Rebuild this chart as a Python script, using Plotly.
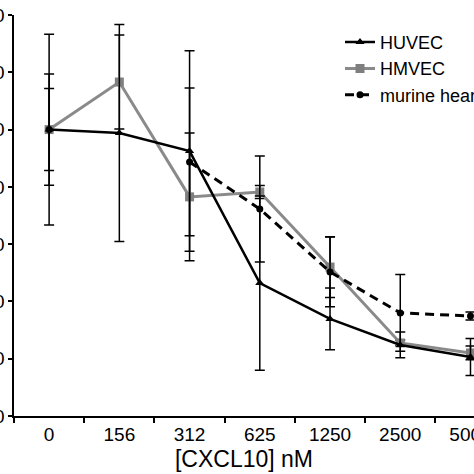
import plotly.graph_objects as go

# [CXCL10] nM doses (categorical x)
doses = ["0", "156", "312", "625", "1250", "2500", "5000"]

# % of control
huvec = [100, 98.8, 92.5, 46.4, 33.9, 24.8, 20.6]
huvec_err = [33.3, 37.9, 35.0, 30.4, 10.8, 4.5, 6.5]

hmvec = [100, 116.6, 76.5, 78.2, 52.0, 25.5, 22.0]
hmvec_err = [19.4, 16.4, 22.3, 2.3, 10.6, 1.0, 2.4]

murine = [100, None, 88.7, 72.3, 50.3, 36.0, 34.9]
murine_err = [14.3, None, 25.8, 18.5, 12.2, 13.4, 1.4]

y_ticks = [0, 20, 40, 60, 80, 100, 120, 140]

FONT = "Liberation Sans, Arial, sans-serif"


def err(vals):
    return dict(type="data", array=vals, visible=True, color="black",
                thickness=1.5, width=5)


fig = go.Figure()

fig.add_trace(go.Scatter(
    x=doses, y=hmvec, name="HMVEC", mode="lines+markers",
    line=dict(color="#8a8a8a", width=3),
    marker=dict(symbol="square", size=9, color="#7f7f7f"),
    error_y=err(hmvec_err), legendrank=2,
))
fig.add_trace(go.Scatter(
    x=doses, y=murine, name="murine heart EC", mode="lines+markers",
    line=dict(color="black", width=3, dash="9px,6px"),
    marker=dict(symbol="circle", size=7, color="black"),
    error_y=err(murine_err), legendrank=3, connectgaps=False,
))
fig.add_trace(go.Scatter(
    x=doses, y=huvec, name="HUVEC", mode="lines+markers",
    line=dict(color="black", width=2.5),
    marker=dict(symbol="triangle-up", size=8, color="black"),
    error_y=err(huvec_err), legendrank=1,
))

fig.update_layout(
    width=474, height=474,
    template="none",
    paper_bgcolor="white", plot_bgcolor="white",
    font=dict(family=FONT, size=19, color="black"),
    margin=dict(l=14, r=0, t=15, b=58, autoexpand=False),
    showlegend=True,
    legend=dict(x=(340 - 14) / 460, y=0.978, xanchor="left", yanchor="top",
                bgcolor="rgba(0,0,0,0)", font=dict(size=18),
                tracegroupgap=0),
)

fig.update_xaxes(
    type="category", range=[-0.5, 6.05],
    showline=True, linecolor="black", linewidth=1.5,
    ticks="outside", ticklen=5, tickcolor="black", tickwidth=1.5,
    tickson="boundaries", showgrid=False, zeroline=False,
    title=dict(text="[CXCL10] nM", standoff=7),
    automargin=False,
)
fig.update_yaxes(
    range=[0, 140], tickvals=y_ticks,
    showline=True, linecolor="black", linewidth=1.5,
    ticks="outside", ticklen=4, tickcolor="black", tickwidth=1.5,
    showgrid=False, zeroline=False,
    automargin=False,
)

# page has a default 8px body margin; drop it so the figure sits at 0,0
fig.write_html("out.html", config={"displayModeBar": False},
               post_script="document.body.style.margin='0';")
